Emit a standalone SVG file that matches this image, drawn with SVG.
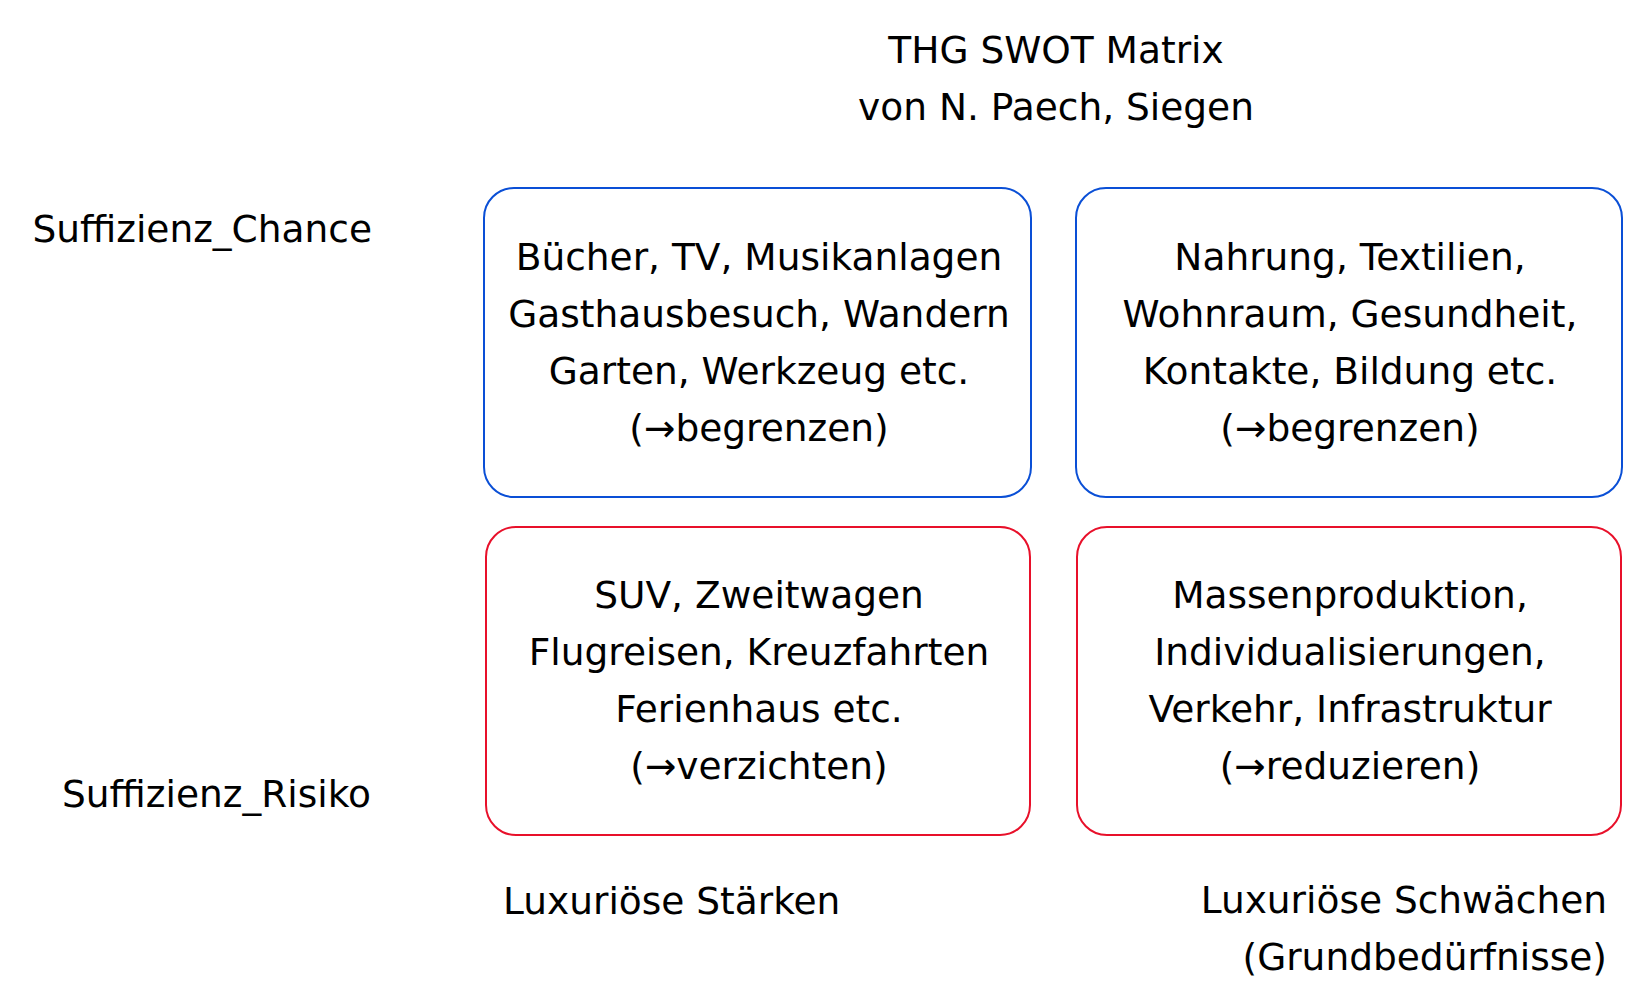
<svg xmlns="http://www.w3.org/2000/svg" width="1629" height="1006" viewBox="0 0 1629 1006">
<style>
text{font-family:"DejaVu Sans",Verdana,sans-serif;font-size:37.5px;fill:#000}
.c{text-anchor:middle}
.r{text-anchor:end}
.blue{fill:#fff;stroke:#0a4fd6;stroke-width:2}
.red{fill:#fff;stroke:#e8102a;stroke-width:2}
</style>
<rect width="1629" height="1006" fill="#fff"/>
<g id="title">
<text class="c" x="1056" y="63">THG SWOT Matrix</text>
<text class="c" x="1056" y="120">von N. Paech, Siegen</text>
</g>
<g id="label-chance"><text class="r" x="372" y="242">Suffizienz_Chance</text></g>
<g id="label-risiko"><text class="r" x="371" y="807">Suffizienz_Risiko</text></g>
<g id="label-staerken"><text x="503" y="914">Luxuriöse Stärken</text></g>
<g id="label-schwaechen">
<text class="r" x="1607" y="913">Luxuriöse Schwächen</text>
<text class="r" x="1607" y="970">(Grundbedürfnisse)</text>
</g>
<g id="box-tl">
<rect class="blue" x="484" y="188" width="547" height="309" rx="30"/>
<text class="c" x="759" y="270">Bücher, TV, Musikanlagen</text>
<text class="c" x="759" y="327">Gasthausbesuch, Wandern</text>
<text class="c" x="759" y="384">Garten, Werkzeug etc.</text>
<text class="c" x="759" y="441">(→begrenzen)</text>
</g>
<g id="box-tr">
<rect class="blue" x="1076" y="188" width="546" height="309" rx="30"/>
<text class="c" x="1350" y="270">Nahrung, Textilien,</text>
<text class="c" x="1350" y="327">Wohnraum, Gesundheit,</text>
<text class="c" x="1350" y="384">Kontakte, Bildung etc.</text>
<text class="c" x="1350" y="441">(→begrenzen)</text>
</g>
<g id="box-bl">
<rect class="red" x="486" y="527" width="544" height="308" rx="30"/>
<text class="c" x="759" y="608">SUV, Zweitwagen</text>
<text class="c" x="759" y="665">Flugreisen, Kreuzfahrten</text>
<text class="c" x="759" y="722">Ferienhaus etc.</text>
<text class="c" x="759" y="779">(→verzichten)</text>
</g>
<g id="box-br">
<rect class="red" x="1077" y="527" width="544" height="308" rx="30"/>
<text class="c" x="1350" y="608">Massenproduktion,</text>
<text class="c" x="1350" y="665">Individualisierungen,</text>
<text class="c" x="1350" y="722">Verkehr, Infrastruktur</text>
<text class="c" x="1350" y="779">(→reduzieren)</text>
</g>
<g id="connectors"/>
</svg>
